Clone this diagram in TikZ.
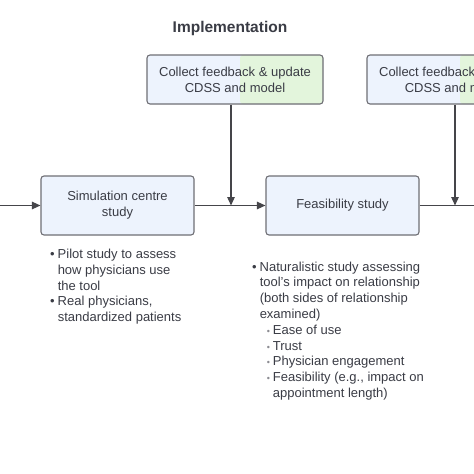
\documentclass[tikz,border=0pt]{standalone}
\usepackage{fontspec}
\setmainfont{Liberation Sans}
\usetikzlibrary{arrows.meta,calc}
\definecolor{boxblue}{HTML}{EDF3FD}
\definecolor{boxgreen}{HTML}{E3F5DC}
\definecolor{boxline}{HTML}{6F6F75}
\definecolor{conncol}{HTML}{45454A}
\definecolor{txt}{HTML}{3A3C45}
\definecolor{subdot}{HTML}{8C8C92}
\newcommand{\bul}{\textbullet}
\newcommand{\subbul}{\hspace{7pt}{\fontsize{9}{9}\selectfont\color{subdot}\textbullet}}
\tikzset{
  stepbox/.style={draw=boxline, line width=1.1pt, rounded corners=3pt, fill=boxblue,
    align=center, text=txt, font=\fontsize{13}{16}\selectfont, inner sep=0pt},
  splitbox/.style={stepbox, path picture={\fill[boxgreen]
    ($(path picture bounding box.north west)+(#1,0)$) rectangle (path picture bounding box.south east);}},
  arrowline/.style={draw=conncol, line width=1.3pt, -{Triangle[length=8.5pt,width=7.5pt]}},
  plainline/.style={draw=conncol, line width=1.3pt},
  notes/.style={anchor=base west, inner sep=0pt, text=txt, font=\fontsize{13}{15.8}\selectfont},
}
\begin{document}
\begin{tikzpicture}[x=1pt,y=-1pt]
\useasboundingbox[fill=white] (0,0) rectangle (474,474);

\node[text=txt, font=\fontsize{15.5}{18}\selectfont\bfseries] (title) at (230,28) {Implementation};

\node[splitbox=93, minimum width=176, minimum height=49] (fb1) at (235,79.5)
  {Collect feedback \& update\\CDSS and model};
\node[splitbox=93, minimum width=176, minimum height=49] (fb2) at (455,79.5)
  {Collect feedback \& update\\CDSS and model};

\node[stepbox, minimum width=153, minimum height=59] (sim) at (117.5,205.5)
  {Simulation centre\\study};
\node[stepbox, minimum width=153, minimum height=59] (feas) at (342.5,205.5)
  {Feasibility study};

\coordinate (in) at (0,205.5);
\coordinate (out) at (474,205.5);
\coordinate (j1) at (231,205.5);
\coordinate (j2) at (455,205.5);

\draw[arrowline] (in) -- (sim.west);
\draw[arrowline] (sim.east) -- (feas.west);
\draw[plainline] (feas.east) -- (out);
\draw[arrowline] (fb1.south -| j1) -- (j1);
\draw[arrowline] (fb2.south -| j2) -- (j2);

\node[notes] (simnotes) at (50,258.5) {%
\begin{tabular}[t]{@{}l@{\hspace{3pt}}l@{}}
\bul & Pilot study to assess\\
 & how physicians use\\
 & the tool\\
\bul & Real physicians,\\
 & standardized patients
\end{tabular}};

\node[notes] (feasnotes) at (252,271) {%
\begin{tabular}[t]{@{}l@{\hspace{3pt}}l@{\hspace{3pt}}l@{}}
\bul & \multicolumn{2}{@{}l@{}}{Naturalistic study assessing}\\
 & \multicolumn{2}{@{}l@{}}{tool’s impact on relationship}\\
 & \multicolumn{2}{@{}l@{}}{(both sides of relationship}\\
 & \multicolumn{2}{@{}l@{}}{examined)}\\
 & \subbul & Ease of use\\
 & \subbul & Trust\\
 & \subbul & Physician engagement\\
 & \subbul & Feasibility (e.g., impact on\\
 & & appointment length)
\end{tabular}};
\end{tikzpicture}
\end{document}
